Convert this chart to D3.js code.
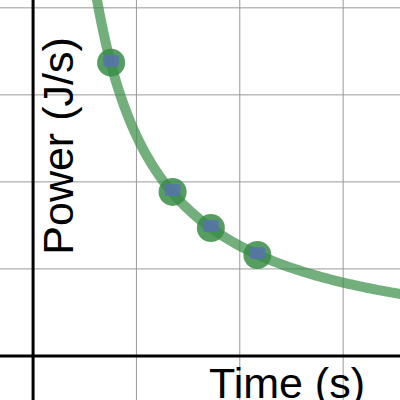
<!DOCTYPE html>
<html><head><meta charset="utf-8">
<script src="https://cdn.jsdelivr.net/npm/d3@7"></script>
<style>body{margin:0;background:#fff}</style></head>
<body><svg id="c" width="400" height="400"></svg>
<script>
const timeVals = [0.755, 1.35, 1.72, 2.17];
const powerVals = [3.37, 1.885, 1.47, 1.16];
const k = 2.53; // P = k / t
const gridX = [1, 2, 3];
const gridY = [1, 2, 3, 4];

const svg = d3.select('#c');
const x = d3.scaleLinear().domain([-0.32, 3.55]).range([0, 400]);
const y = d3.scaleLinear().domain([-0.506, 4.09]).range([400, 0]);

svg.selectAll('.gx').data(gridX).enter().append('line')
  .attr('x1', d => x(d)).attr('x2', d => x(d)).attr('y1', 0).attr('y2', 400)
  .attr('stroke', '#999').attr('stroke-width', 1);
svg.selectAll('.gy').data(gridY).enter().append('line')
  .attr('y1', d => y(d)).attr('y2', d => y(d)).attr('x1', 0).attr('x2', 400)
  .attr('stroke', '#999').attr('stroke-width', 1);

svg.append('line').attr('x1', x(0)).attr('x2', x(0)).attr('y1', 0).attr('y2', 400)
  .attr('stroke', '#000').attr('stroke-width', 3);
svg.append('line').attr('y1', y(0)).attr('y2', y(0)).attr('x1', 0).attr('x2', 400)
  .attr('stroke', '#000').attr('stroke-width', 3);

const ts = d3.range(0.6, 3.6, 0.02);
svg.append('path').datum(ts)
  .attr('d', d3.line().x(t => x(t)).y(t => y(k / t)))
  .attr('fill', 'none').attr('stroke', '#388c46').attr('stroke-opacity', 0.7)
  .attr('stroke-width', 10);

const pts = svg.selectAll('.p').data(timeVals).enter().append('g')
  .attr('transform', (d, i) => `translate(${x(d)},${y(powerVals[i])})`);
pts.append('circle').attr('r', 14).attr('fill', '#388c46').attr('fill-opacity', 0.85);
pts.append('rect').attr('x', -8).attr('y', -8).attr('width', 16).attr('height', 12).attr('rx', 3)
  .attr('fill', '#5a6fb8').attr('opacity', 0.75);

svg.append('text').attr('transform', `translate(73,146) rotate(-90)`)
  .attr('text-anchor', 'middle').attr('font-family', 'Liberation Sans, Arial').attr('font-size', 43)
  .text('Power (J/s)');
svg.append('text').attr('x', 287).attr('y', 398)
  .attr('text-anchor', 'middle').attr('font-family', 'Liberation Sans, Arial').attr('font-size', 43)
  .text('Time (s)');
</script></body></html>
